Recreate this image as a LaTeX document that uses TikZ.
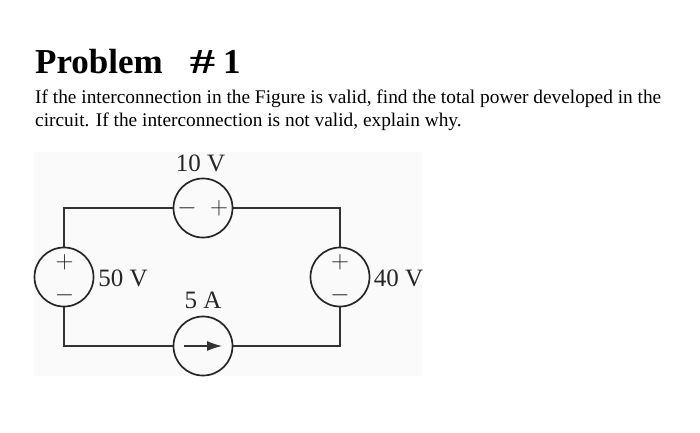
\documentclass[tikz,border=0pt]{standalone}
\usepackage{fontspec}
\setmainfont{Liberation Serif}
\usetikzlibrary{arrows,arrows.meta}

\definecolor{panel}{RGB}{250,250,250}
\definecolor{wire}{RGB}{50,50,50}

\begin{document}
\begin{tikzpicture}[x=1pt,y=-1pt]
\tikzstyle{source}=[circle,draw=black!85,line width=1.7pt,minimum width=59pt,inner sep=0pt]
\tikzstyle{wirenet}=[draw=wire,line width=1.2pt]
\tikzstyle{val}=[inner sep=0pt,text=black!85,font=\fontsize{25}{25}\selectfont]
\tikzstyle{sign}=[inner sep=0pt,text=black!85,font=\fontsize{25}{25}\selectfont]
\tikzstyle{para}=[inner sep=0pt,anchor=base west,font=\fontsize{19.35}{19.35}\selectfont]
\useasboundingbox (0,0) rectangle (700,432);
\fill[panel] (34,152) rectangle (422,376);
\draw (203,208) node (vtop) [source] {};
\draw (64,277) node (vleft) [source] {};
\draw (340,277) node (vright) [source] {};
\draw (203,346) node (ibot) [source] {};
\coordinate (tl) at (64,208);
\coordinate (tr) at (340,208);
\coordinate (bl) at (64,346);
\coordinate (br) at (340,346);
\draw[wirenet] (vleft) -- (tl) -- (vtop);
\draw[wirenet] (vtop) -- (tr) -- (vright);
\draw[wirenet] (vleft) -- (bl) -- (ibot);
\draw[wirenet] (ibot) -- (br) -- (vright);
\draw (187,208) node (mtop) [sign] {$-$};
\draw (219,208) node (ptop) [sign] {$+$};
\draw (64.5,262) node (pleft) [sign] {$+$};
\draw (64.5,295) node (mleft) [sign] {$-$};
\draw (340,262) node (pright) [sign] {$+$};
\draw (340,295) node (mright) [sign] {$-$};
\coordinate (atail) at (184,346);
\coordinate (ahead) at (222,346);
\draw[wirenet,-{Latex[length=15pt,width=10pt]}] (atail) -- (ahead);
\draw (200.5,163) node (ltop) [val] {10 V};
\draw (123,278) node (lleft) [val] {50 V};
\draw (398.5,278) node (lright) [val] {40 V};
\draw (203,300) node (lbot) [val] {5 A};
\node (title) [anchor=base west,inner sep=0pt,font=\fontsize{35}{35}\selectfont\bfseries] at (35,73) {Problem\hspace{27pt}\scalebox{1.45}[1]{\#}\hspace{8pt}1};
\node (line1) [para] at (35,103) {If the interconnection in the Figure is valid, find the total power developed in the};
\node (line2) [para] at (35,126) {circuit. If the interconnection is not valid, explain why.};
\end{tikzpicture}
\end{document}
